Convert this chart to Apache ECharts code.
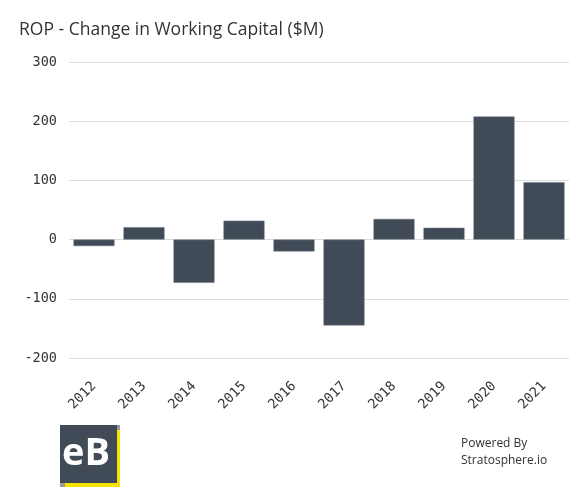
<!DOCTYPE html>
<html>
<head>
<meta charset="utf-8">
<script src="https://cdn.jsdelivr.net/npm/echarts@6/dist/echarts.min.js"></script>
<style>html,body{margin:0;padding:0;background:#fff}#c{width:585px;height:500px}</style>
</head>
<body>
<div id="c"></div>
<script>
const categories = ['2012','2013','2014','2015','2016','2017','2018','2019','2020','2021'];
const values = [-11, 21, -73, 32, -20, -145, 35, 20, 208, 97];
const yTicks = { min: -200, max: 300, interval: 100 };

const chart = echarts.init(document.getElementById('c'));
chart.setOption({
  animation: false,
  title: {
    text: 'ROP - Change in Working Capital ($M)',
    left: 14, top: 16,
    textStyle: { fontFamily: 'Open Sans', fontSize: 17.5, fontWeight: 'normal', color: '#333' }
  },
  grid: { left: 69, right: 16, top: 62, bottom: 142 },
  xAxis: {
    type: 'category',
    data: categories,
    axisLine: { show: false },
    axisTick: { show: false },
    axisLabel: { rotate: 45, fontFamily: 'DejaVu Sans Mono', fontSize: 13.5, color: '#333', margin: 26, interval: 0 }
  },
  yAxis: {
    type: 'value',
    min: yTicks.min, max: yTicks.max, interval: yTicks.interval,
    axisLine: { show: false },
    axisTick: { show: false },
    splitLine: { lineStyle: { color: '#dcdcdc', width: 1 } },
    axisLabel: { fontFamily: 'DejaVu Sans Mono', fontSize: 13.5, color: '#333', margin: 12 }
  },
  series: [{
    type: 'bar',
    data: values,
    barCategoryGap: '18%',
    itemStyle: { color: '#414b57', borderColor: '#6b7480', borderWidth: 0.5 }
  }],
  graphic: [
    { type: 'rect', shape: { x: 60, y: 425, width: 60, height: 62 }, style: { fill: '#9a9a9a' } },
    { type: 'rect', shape: { x: 65, y: 430, width: 55, height: 57 }, style: { fill: '#f5e400' } },
    { type: 'rect', shape: { x: 60, y: 425, width: 57, height: 58 }, style: { fill: '#414b57' } },
    { type: 'text', left: 62, top: 435, style: { text: 'eB', fill: '#fff', font: 'bold 38px "Open Sans"' } },
    { type: 'text', left: 461, top: 438, style: { text: 'Powered By', fill: '#333', font: '12px "Open Sans"' } },
    { type: 'text', left: 461, top: 455, style: { text: 'Stratosphere.io', fill: '#333', font: '12px "Open Sans"' } }
  ]
});
</script>
</body>
</html>
